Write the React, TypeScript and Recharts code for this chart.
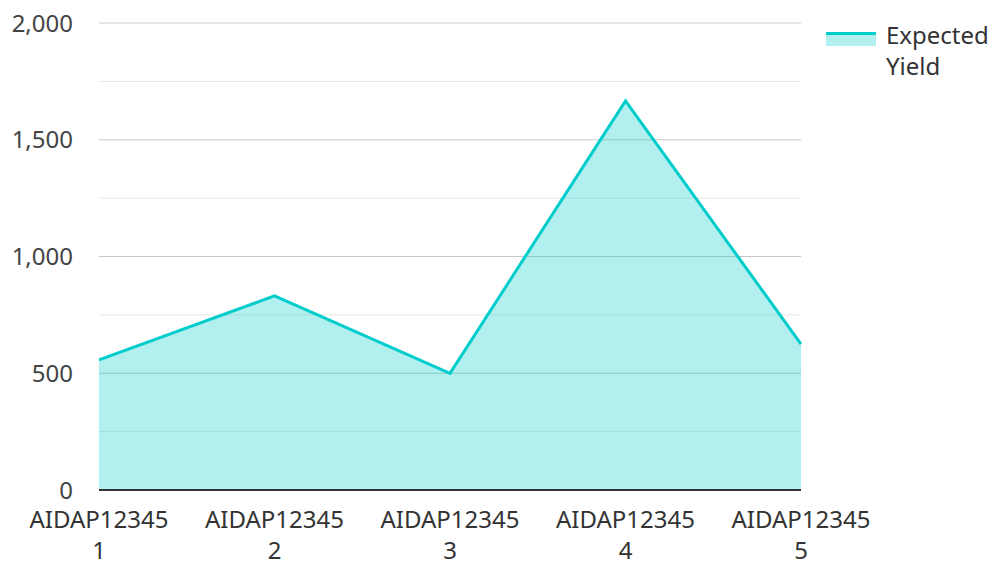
import React from "react";
import { AreaChart, Area, XAxis, YAxis, CartesianGrid } from "recharts";

const CATEGORIES = ["AIDAP123451", "AIDAP123452", "AIDAP123453", "AIDAP123454", "AIDAP123455"];
const EXPECTED_YIELD = [557, 831, 500, 1666, 625];
const Y_TICKS = [0, 500, 1000, 1500, 2000];
const MINOR_GRID = [250, 750, 1250, 1750];

const TEAL = "#00cccc";
const FONT = "'Noto Sans', 'Open Sans', sans-serif";

const data = CATEGORIES.map((name, i) => ({ name, yield: EXPECTED_YIELD[i] }));

// wraps "AIDAP123451" into "AIDAP12345" / "1" like the original
function XTick(props: any) {
  const { x, y, payload } = props;
  const label: string = payload.value;
  return (
    <text x={x} y={y} textAnchor="middle" fill="#333" fontSize={24} fontFamily={FONT}>
      <tspan x={x} dy={30}>{label.slice(0, -1)}</tspan>
      <tspan x={x} dy={31}>{label.slice(-1)}</tspan>
    </text>
  );
}

function LegendBox() {
  return (
    <div
      style={{
        position: "absolute",
        left: 826,
        top: 19,
        display: "flex",
        alignItems: "flex-start",
        fontFamily: FONT,
        fontSize: 24,
        color: "#333",
      }}
    >
      <div style={{ width: 50, marginTop: 13, marginRight: 10 }}>
        <div style={{ height: 3, background: TEAL }} />
        <div style={{ height: 11, background: TEAL, opacity: 0.3 }} />
      </div>
      <div style={{ lineHeight: "31px", width: 110 }}>
        Expected
        <br />
        Yield
      </div>
    </div>
  );
}

export default function App() {
  return (
    <div style={{ position: "absolute", left: 0, top: 0, width: 995, height: 562, background: "#fff" }}>
      <AreaChart
        width={995}
        height={562}
        data={data}
        margin={{ top: 23, right: 194, bottom: 10, left: 0 }}
      >
        <CartesianGrid vertical={false} horizontalValues={MINOR_GRID} stroke="#e6e6e6" />
        <CartesianGrid vertical={false} horizontalValues={Y_TICKS} stroke="#c8c8c8" />
        <XAxis
          dataKey="name"
          tick={<XTick />}
          tickLine={false}
          axisLine={{ stroke: "#333", strokeWidth: 2 }}
          height={62}
          interval={0}
        />
        <YAxis
          domain={[0, 2000]}
          ticks={Y_TICKS}
          width={99}
          axisLine={false}
          tickLine={false}
          tickFormatter={(v: number) => v.toLocaleString("en-US")}
          tick={{ fill: "#444", fontSize: 24, fontFamily: FONT, dx: -18 }}
        />
        <Area
          type="linear"
          dataKey="yield"
          name="Expected Yield"
          stroke={TEAL}
          strokeWidth={3}
          strokeLinejoin="miter"
          fill={TEAL}
          fillOpacity={0.3}
          dot={false}
          activeDot={false}
          isAnimationActive={false}
        />
      </AreaChart>
      <LegendBox />
    </div>
  );
}
